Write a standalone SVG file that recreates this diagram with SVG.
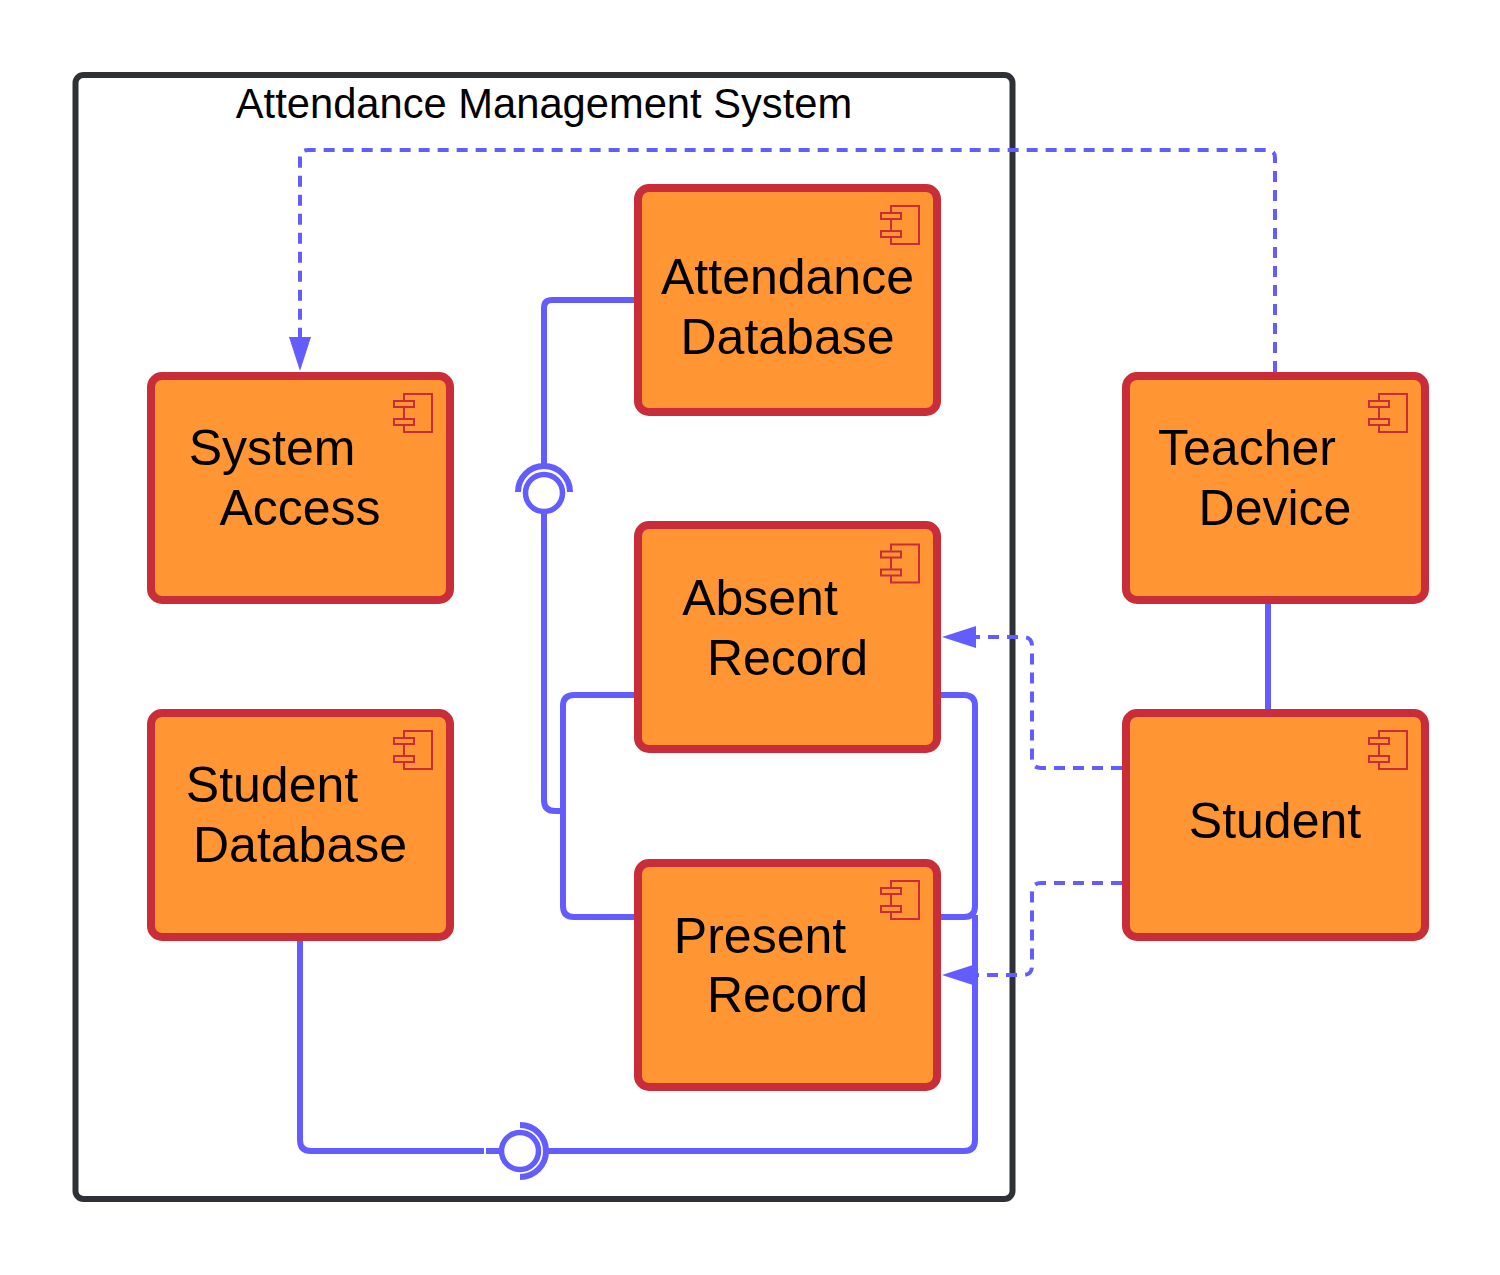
<svg xmlns="http://www.w3.org/2000/svg" width="1500" height="1275" viewBox="0 0 1500 1275">
<defs>
<style>
.box{fill:#ff9533;stroke:#c92d39;stroke-width:8}
.ic{fill:none;stroke:#c92d39;stroke-width:2}
.t{font-family:"Liberation Sans",Arial,sans-serif;font-size:50px;fill:#000;text-anchor:middle}
.w{fill:none;stroke:#635dff;stroke-width:6}
.d{fill:none;stroke:#635dff;stroke-width:4;stroke-dasharray:11 8}
.h{fill:#635dff;stroke:none}
</style>
<g id="icon"><path class="ic" d="M891 212V206H919V244H891V237M891 219V231"/><rect class="ic" x="881" y="213" width="20" height="6"/><rect class="ic" x="881" y="231" width="20" height="6"/></g>
</defs>
<rect id="frame" x="75.500" y="75" width="937" height="1124" rx="8" fill="#fff" stroke="#2e3136" stroke-width="6"/>
<text x="544" y="118" font-family="Liberation Sans,Arial,sans-serif" font-size="41.700" text-anchor="middle">Attendance Management System</text>
<g id="connectors">
<path class="d" d="M1275 372V158Q1275 150 1267 150H308Q300 150 300 158V340"/>
<path class="h" d="M300 371L289 337H311Z"/>
<path class="w" d="M636 300H552Q544 300 544 308V464"/>
<path class="w" d="M544 510V800Q544 811 555 811H563"/>
<path class="w" d="M636 695H574Q563 695 563 706V906Q563 917 574 917H636"/>
<path class="w" d="M941 695H964Q975 695 975 706V906Q975 917 964 917H941"/>
<path class="w" d="M975 915V1140Q975 1151 964 1151H548"/>
<path class="w" d="M300 941V1140Q300 1151 311 1151H484M486 1151H500"/>
<path class="w" d="M1268 603V710"/>
<path class="d" d="M1122 768H1041Q1032 768 1032 759V646Q1032 637 1023 637H976"/>
<path class="h" d="M942 637L976 626V648Z"/>
<path class="d" d="M1122 883H1041Q1032 883 1032 892V966Q1032 975 1023 975H976"/>
<path class="h" d="M942 975L976 964V986Z"/>
<g id="socket-top" fill="none" stroke="#635dff"><circle cx="544" cy="493" r="18.500" fill="#fff" stroke-width="5.500"/><path d="M518 492A26 26 0 0 1 570 492" stroke-width="6"/></g>
<g id="socket-bottom" fill="none" stroke="#635dff"><circle cx="520" cy="1151" r="18.500" fill="#fff" stroke-width="5.500"/><path d="M520 1125A26 26 0 0 1 520 1177" stroke-width="6"/></g>
</g>
<g id="attendance-database"><rect class="box" x="638" y="188" width="299" height="224" rx="11"/><use href="#icon"/><text class="t" x="787.500" y="293.500">Attendance</text><text class="t" x="787.500" y="353.500">Database</text></g>
<g id="system-access"><rect class="box" x="151" y="376" width="299" height="224" rx="11"/><use href="#icon" x="-487" y="188"/><text class="t" x="272" y="464.500">System</text><text class="t" x="300" y="524.500">Access</text></g>
<g id="absent-record"><rect class="box" x="638" y="525" width="299" height="224" rx="11"/><use href="#icon" y="338.500"/><text class="t" x="760" y="614.500">Absent</text><text class="t" x="787.500" y="674.500">Record</text></g>
<g id="student-database"><rect class="box" x="151" y="713" width="299" height="224" rx="11"/><use href="#icon" x="-487" y="525"/><text class="t" x="272" y="802">Student</text><text class="t" x="300" y="862">Database</text></g>
<g id="present-record"><rect class="box" x="638" y="863" width="299" height="224" rx="11"/><use href="#icon" y="675"/><text class="t" x="760" y="952.500">Present</text><text class="t" x="787.500" y="1012">Record</text></g>
<g id="teacher-device"><rect class="box" x="1126" y="376" width="299" height="224" rx="11"/><use href="#icon" x="488" y="188"/><text class="t" x="1247" y="464.500">Teacher</text><text class="t" x="1275" y="524.500">Device</text></g>
<g id="student"><rect class="box" x="1126" y="713" width="299" height="224" rx="11"/><use href="#icon" x="488" y="525"/><text class="t" x="1275" y="837.500">Student</text></g>
</svg>
